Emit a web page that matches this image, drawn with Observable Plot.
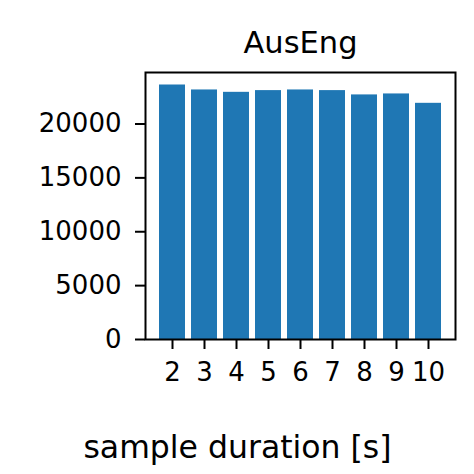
<!DOCTYPE html>
<html>
<head>
<meta charset="utf-8">
<script src="https://cdn.jsdelivr.net/npm/d3@7"></script>
<script src="https://cdn.jsdelivr.net/npm/@observablehq/plot@0.6"></script>
<style>
  html, body { margin: 0; padding: 0; background: #fff; }
</style>
</head>
<body>
<div id="chart"></div>
<script>
const durations = [2, 3, 4, 5, 6, 7, 8, 9, 10];
const counts = [23620, 23160, 22940, 23100, 23160, 23100, 22700, 22790, 21920];
const yTicks = [0, 5000, 10000, 15000, 20000];
const titleText = "AusEng";
const xLabelText = "sample duration [s]";

const data = durations.map((d, i) => ({duration: d, count: counts[i]}));

const chart = Plot.plot({
  width: 474,
  height: 474,
  marginLeft: 145,
  marginRight: 19,
  marginTop: 72,
  marginBottom: 135,
  style: {fontFamily: "DejaVu Sans", fontSize: "26px", color: "black", background: "white"},
  x: {type: "band", domain: durations, paddingInner: 0.2, paddingOuter: 0.44, label: null},
  y: {domain: [0, 24780], label: null},
  marks: [
    Plot.barY(data, {x: "duration", y: "count", fill: "#1f77b4"}),
    Plot.frame({stroke: "black", strokeWidth: 2}),
    Plot.axisX({tickSize: 10, tickPadding: 13, strokeWidth: 2, fontSize: 26, label: null}),
    Plot.axisY({ticks: yTicks, tickSize: 10, tickPadding: 14, strokeWidth: 2, fontSize: 26, tickFormat: d => String(d), label: null}),
    Plot.text([titleText], {frameAnchor: "top", lineAnchor: "bottom", dy: -20, fontSize: 30.5, fill: "black"}),
    Plot.text([xLabelText], {frameAnchor: "bottom", lineAnchor: "bottom", dx: -63, dy: 118, fontSize: 31.5, fill: "black"})
  ]
});
document.getElementById("chart").appendChild(chart);
</script>
</body>
</html>
